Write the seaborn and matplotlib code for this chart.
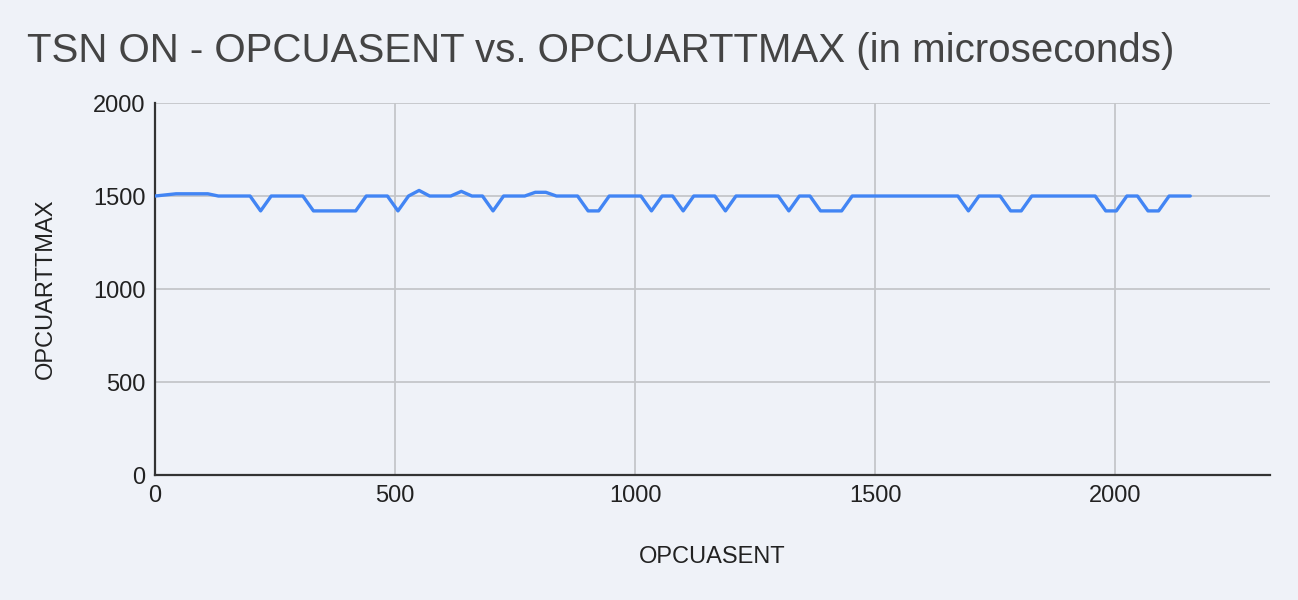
import pandas as pd
import seaborn as sns
import matplotlib.pyplot as plt

# OPCUASENT sample positions
sent = [0, 22, 44, 66, 88, 110, 132, 154, 176, 198, 220, 242, 264, 286, 308, 330, 352, 374, 396, 418,
        440, 462, 484, 506, 528, 550, 572, 594, 616, 638, 660, 682, 704, 726, 748, 770, 792, 814, 836, 858,
        880, 902, 924, 946, 968, 990, 1012, 1034, 1056, 1078, 1100, 1122, 1144, 1166, 1188, 1210, 1232, 1254,
        1276, 1298, 1320, 1342, 1364, 1386, 1408, 1430, 1452, 1474, 1496, 1518, 1540, 1562, 1584, 1606, 1628,
        1650, 1672, 1694, 1716, 1738, 1760, 1782, 1804, 1826, 1848, 1870, 1892, 1914, 1936, 1958, 1980, 2002,
        2024, 2046, 2068, 2090, 2112, 2134, 2156]

# OPCUARTTMAX (microseconds)
rtt_max = [1500, 1506, 1512, 1512, 1512, 1512, 1500, 1500, 1500, 1500,
           1420, 1500, 1500, 1500, 1500, 1420, 1420, 1420, 1420, 1420,
           1500, 1500, 1500, 1420, 1500, 1530, 1500, 1500, 1500, 1525,
           1500, 1500, 1420, 1500, 1500, 1500, 1520, 1520, 1500, 1500,
           1500, 1420, 1420, 1500, 1500, 1500, 1500, 1420, 1500, 1500,
           1420, 1500, 1500, 1500, 1420, 1500, 1500, 1500, 1500, 1500,
           1420, 1500, 1500, 1420, 1420, 1420, 1500, 1500, 1500, 1500,
           1500, 1500, 1500, 1500, 1500, 1500, 1500, 1420, 1500, 1500,
           1500, 1420, 1420, 1500, 1500, 1500, 1500, 1500, 1500, 1500,
           1420, 1420, 1500, 1500, 1420, 1420, 1500, 1500, 1500]

x_ticks = [0, 500, 1000, 1500, 2000]
y_ticks = [0, 500, 1000, 1500, 2000]

df = pd.DataFrame({'OPCUASENT': sent, 'OPCUARTTMAX': rtt_max})

bg = '#eff2f8'
sns.set_theme(style='white')
plt.rcParams['font.family'] = ['Liberation Sans', 'DejaVu Sans']

fig = plt.figure(figsize=(12.98, 6), dpi=100, facecolor=bg)
ax = fig.add_axes([0.1194, 0.2083, 0.859, 0.62])
ax.set_facecolor(bg)

sns.lineplot(data=df, x='OPCUASENT', y='OPCUARTTMAX', ax=ax, color='#4285f4',
             linewidth=2.4, sort=False, zorder=3)

ax.set_xlim(0, 2322)
ax.set_ylim(0, 2000)
ax.set_xticks(x_ticks)
ax.set_yticks(y_ticks)
ax.set_xticklabels([str(t) for t in x_ticks])
ax.set_yticklabels([str(t) for t in y_ticks])
ax.tick_params(axis='both', length=0, labelsize=17, colors='#222222', pad=7)

ax.grid(True, color='#c4c6ca', linewidth=1.3)
ax.set_axisbelow(True)
for s in ['top', 'right']:
    ax.spines[s].set_visible(False)
for s in ['left', 'bottom']:
    ax.spines[s].set_color('#333333')
    ax.spines[s].set_linewidth(1.6)

ax.set_xlabel('OPCUASENT', fontsize=17, color='#222222', labelpad=28)
ax.set_ylabel('OPCUARTTMAX', fontsize=17, color='#222222', labelpad=26)

fig.text(0.021, 0.897, 'TSN ON - OPCUASENT vs. OPCUARTTMAX (in microseconds)',
         fontsize=29, color='#444444', ha='left', va='baseline')

fig.savefig('out.png', dpi=100, facecolor=bg)
